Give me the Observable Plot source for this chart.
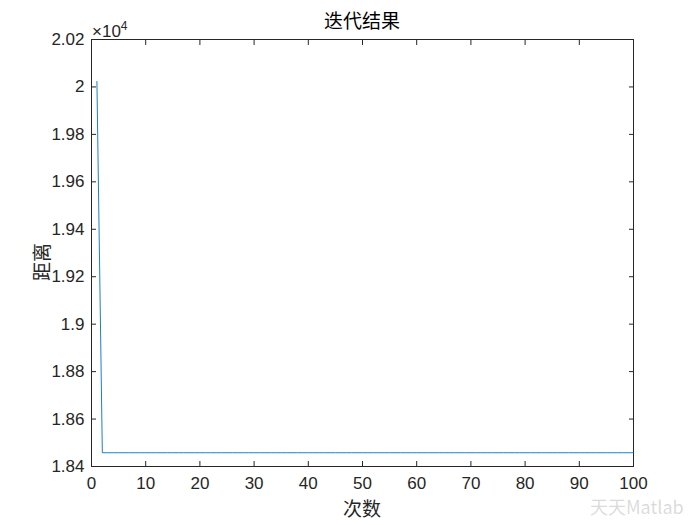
<!DOCTYPE html>
<html><head><meta charset="utf-8">
<script src="https://cdn.jsdelivr.net/npm/d3@7"></script>
<script src="https://cdn.jsdelivr.net/npm/@observablehq/plot@0.6"></script>
<style>
body{margin:0;background:#fff;}
#wrap{position:relative;width:700px;height:525px;overflow:hidden;background:#fff;}
#wrap svg{position:absolute;left:0;top:0;}
.t{position:absolute;white-space:nowrap;}
</style></head>
<body><div id="wrap"></div>
<script>
const title = "迭代结果";
const xLabel = "次数";
const yLabel = "距离";
const exponentBase = "×10";
const exponentPow = "4";
const watermark = "天天Matlab";
const xTicks = [0,10,20,30,40,50,60,70,80,90,100];
const yTicks = [18400,18600,18800,19000,19200,19400,19600,19800,20000,20200];
const yTickLabels = ["1.84","1.86","1.88","1.9","1.92","1.94","1.96","1.98","2","2.02"];
const iterations = [1,2,3,4,5,6,7,8,9,10,11,12,13,14,15,16,17,18,19,20,21,22,23,24,25,26,27,28,29,30,31,32,33,34,35,36,37,38,39,40,41,42,43,44,45,46,47,48,49,50,51,52,53,54,55,56,57,58,59,60,61,62,63,64,65,66,67,68,69,70,71,72,73,74,75,76,77,78,79,80,81,82,83,84,85,86,87,88,89,90,91,92,93,94,95,96,97,98,99,100];
const distances = [20023,18458,18458,18458,18458,18458,18458,18458,18458,18458,18458,18458,18458,18458,18458,18458,18458,18458,18458,18458,18458,18458,18458,18458,18458,18458,18458,18458,18458,18458,18458,18458,18458,18458,18458,18458,18458,18458,18458,18458,18458,18458,18458,18458,18458,18458,18458,18458,18458,18458,18458,18458,18458,18458,18458,18458,18458,18458,18458,18458,18458,18458,18458,18458,18458,18458,18458,18458,18458,18458,18458,18458,18458,18458,18458,18458,18458,18458,18458,18458,18458,18458,18458,18458,18458,18458,18458,18458,18458,18458,18458,18458,18458,18458,18458,18458,18458,18458,18458,18458];

const data = iterations.map((x,i)=>({x, y: distances[i]}));
const yFmt = v => yTickLabels[yTicks.indexOf(v)] ?? "";
const tickFont = "Liberation Sans, Arial, sans-serif";

const plot = Plot.plot({
  width: 700, height: 525,
  marginLeft: 91, marginRight: 67, marginTop: 39, marginBottom: 59,
  style: {background: "#fff", fontFamily: tickFont, fontSize: "17px", color: "#262626", overflow: "visible"},
  x: {domain: [0,100]},
  y: {domain: [18400,20200]},
  marks: [
    Plot.axisX({anchor:"bottom", ticks: xTicks, tickSize: -5, tickPadding: 15, label: null, tickFormat: d=>d, stroke:"#262626"}),
    Plot.axisX({anchor:"top", ticks: xTicks, tickSize: -5, label: null, tickFormat: ()=>"", stroke:"#262626"}),
    Plot.axisY({anchor:"left", ticks: yTicks, tickSize: -5, tickPadding: 12, label: null, tickFormat: yFmt, stroke:"#262626"}),
    Plot.axisY({anchor:"right", ticks: yTicks, tickSize: -5, label: null, tickFormat: ()=>"", stroke:"#262626"}),
    Plot.frame({stroke:"#262626", strokeWidth: 1}),
    Plot.line(data, {x:"x", y:"y", stroke:"#0072BD", strokeWidth: 0.9})
  ]
});
const wrap = document.getElementById("wrap");
wrap.appendChild(plot);

function addText(txt, css){
  const d = document.createElement("div");
  d.className = "t"; d.textContent = txt;
  Object.assign(d.style, css);
  wrap.appendChild(d);
  return d;
}
const cjk = "'Noto Sans CJK SC', sans-serif";
addText(title, {left:"362px", top:"10px", transform:"translateX(-50%)", fontFamily:cjk, fontSize:"19px", color:"#000", lineHeight:"1"});
addText(xLabel, {left:"362px", top:"498px", transform:"translateX(-50%)", fontFamily:cjk, fontSize:"19px", color:"#262626", lineHeight:"1"});
addText(yLabel, {left:"40px", top:"262px", transform:"translate(-50%,-50%) rotate(-90deg)", fontFamily:cjk, fontSize:"19px", color:"#262626", lineHeight:"1"});
const ex = addText(exponentBase, {left:"92px", top:"20px", fontFamily:tickFont, fontSize:"17px", color:"#262626", lineHeight:"1"});
const sup = document.createElement("sup"); sup.textContent = exponentPow; sup.style.fontSize="12px"; sup.style.verticalAlign="7px";
ex.appendChild(sup);
addText(watermark, {left:"590px", top:"497px", fontFamily:cjk, fontSize:"18px", color:"rgba(150,150,150,0.35)", lineHeight:"1"});
</script>
</body></html>
